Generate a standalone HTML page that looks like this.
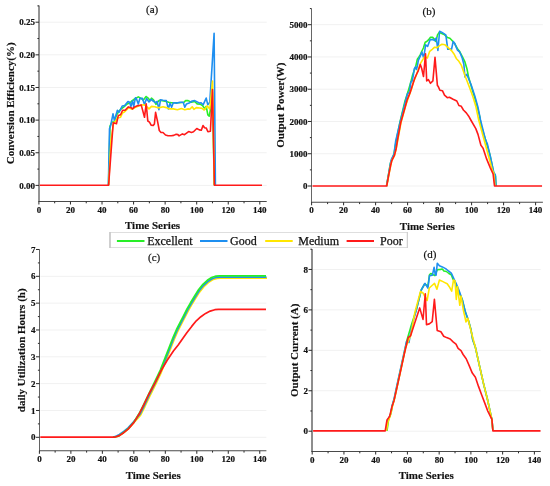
<!DOCTYPE html><html><head><meta charset="utf-8"><style>html,body{-webkit-font-smoothing:antialiased;margin:0;padding:0;background:#fff;width:550px;height:486px;overflow:hidden}svg{display:block;will-change:transform}.tk{font:bold 9px "Liberation Serif", serif;fill:#111;stroke:#111;stroke-width:0.2px}.al{font:bold 11px "Liberation Serif", serif;fill:#111;stroke:#111;stroke-width:0.15px}.tt{font:11px "Liberation Serif", serif;fill:#111;stroke:#111;stroke-width:0.2px}.lg{font:12px "Liberation Serif", serif;fill:#111;stroke:#111;stroke-width:0.25px}</style></head><body>
<svg width="550" height="486" viewBox="0 0 550 486">
<line x1="40" y1="185.4" x2="266.7" y2="185.4" stroke="#f1f1f1" stroke-width="1"/>
<line x1="40" y1="152.76" x2="266.7" y2="152.76" stroke="#f1f1f1" stroke-width="1"/>
<line x1="40" y1="120.12" x2="266.7" y2="120.12" stroke="#f1f1f1" stroke-width="1"/>
<line x1="40" y1="87.48" x2="266.7" y2="87.48" stroke="#f1f1f1" stroke-width="1"/>
<line x1="40" y1="54.84" x2="266.7" y2="54.84" stroke="#f1f1f1" stroke-width="1"/>
<line x1="40" y1="22.2" x2="266.7" y2="22.2" stroke="#f1f1f1" stroke-width="1"/>
<line x1="39" y1="5.5" x2="39" y2="202" stroke="#2a2a2a" stroke-width="1"/>
<line x1="38.5" y1="201.5" x2="266.7" y2="201.5" stroke="#4a4a4a" stroke-width="1.1"/>
<line x1="35.5" y1="185.4" x2="39" y2="185.4" stroke="#2a2a2a" stroke-width="1"/>
<text x="35" y="188.5" text-anchor="end" class="tk">0.00</text>
<line x1="35.5" y1="152.76" x2="39" y2="152.76" stroke="#2a2a2a" stroke-width="1"/>
<text x="35" y="155.86" text-anchor="end" class="tk">0.05</text>
<line x1="35.5" y1="120.12" x2="39" y2="120.12" stroke="#2a2a2a" stroke-width="1"/>
<text x="35" y="123.22" text-anchor="end" class="tk">0.10</text>
<line x1="35.5" y1="87.48" x2="39" y2="87.48" stroke="#2a2a2a" stroke-width="1"/>
<text x="35" y="90.58" text-anchor="end" class="tk">0.15</text>
<line x1="35.5" y1="54.84" x2="39" y2="54.84" stroke="#2a2a2a" stroke-width="1"/>
<text x="35" y="57.94" text-anchor="end" class="tk">0.20</text>
<line x1="35.5" y1="22.2" x2="39" y2="22.2" stroke="#2a2a2a" stroke-width="1"/>
<text x="35" y="25.3" text-anchor="end" class="tk">0.25</text>
<line x1="37.4" y1="169.08" x2="39" y2="169.08" stroke="#2a2a2a" stroke-width="1"/>
<line x1="37.4" y1="136.44" x2="39" y2="136.44" stroke="#2a2a2a" stroke-width="1"/>
<line x1="37.4" y1="103.8" x2="39" y2="103.8" stroke="#2a2a2a" stroke-width="1"/>
<line x1="37.4" y1="71.16" x2="39" y2="71.16" stroke="#2a2a2a" stroke-width="1"/>
<line x1="37.4" y1="38.52" x2="39" y2="38.52" stroke="#2a2a2a" stroke-width="1"/>
<line x1="37.4" y1="5.88" x2="39" y2="5.88" stroke="#2a2a2a" stroke-width="1"/>
<line x1="38.9" y1="201.5" x2="38.9" y2="204.5" stroke="#2a2a2a" stroke-width="1"/>
<text x="38.9" y="213.3" text-anchor="middle" class="tk">0</text>
<line x1="54.68" y1="201.5" x2="54.68" y2="203.3" stroke="#2a2a2a" stroke-width="1"/>
<line x1="70.46" y1="201.5" x2="70.46" y2="204.5" stroke="#2a2a2a" stroke-width="1"/>
<text x="70.46" y="213.3" text-anchor="middle" class="tk">20</text>
<line x1="86.24" y1="201.5" x2="86.24" y2="203.3" stroke="#2a2a2a" stroke-width="1"/>
<line x1="102.02" y1="201.5" x2="102.02" y2="204.5" stroke="#2a2a2a" stroke-width="1"/>
<text x="102.02" y="213.3" text-anchor="middle" class="tk">40</text>
<line x1="117.8" y1="201.5" x2="117.8" y2="203.3" stroke="#2a2a2a" stroke-width="1"/>
<line x1="133.58" y1="201.5" x2="133.58" y2="204.5" stroke="#2a2a2a" stroke-width="1"/>
<text x="133.58" y="213.3" text-anchor="middle" class="tk">60</text>
<line x1="149.36" y1="201.5" x2="149.36" y2="203.3" stroke="#2a2a2a" stroke-width="1"/>
<line x1="165.14" y1="201.5" x2="165.14" y2="204.5" stroke="#2a2a2a" stroke-width="1"/>
<text x="165.14" y="213.3" text-anchor="middle" class="tk">80</text>
<line x1="180.92" y1="201.5" x2="180.92" y2="203.3" stroke="#2a2a2a" stroke-width="1"/>
<line x1="196.7" y1="201.5" x2="196.7" y2="204.5" stroke="#2a2a2a" stroke-width="1"/>
<text x="196.7" y="213.3" text-anchor="middle" class="tk">100</text>
<line x1="212.48" y1="201.5" x2="212.48" y2="203.3" stroke="#2a2a2a" stroke-width="1"/>
<line x1="228.26" y1="201.5" x2="228.26" y2="204.5" stroke="#2a2a2a" stroke-width="1"/>
<text x="228.26" y="213.3" text-anchor="middle" class="tk">120</text>
<line x1="244.04" y1="201.5" x2="244.04" y2="203.3" stroke="#2a2a2a" stroke-width="1"/>
<line x1="259.82" y1="201.5" x2="259.82" y2="204.5" stroke="#2a2a2a" stroke-width="1"/>
<text x="259.82" y="213.3" text-anchor="middle" class="tk">140</text>
<text x="152.5" y="229.2" text-anchor="middle" class="al">Time Series</text>
<text transform="translate(14,103.3) rotate(-90)" text-anchor="middle" class="al">Conversion Efficiency(%)</text>
<text x="152.1" y="13.2" text-anchor="middle" class="tt">(a)</text>
<polyline points="108.5,185.2 110,126 112,122 114.4,121.7 116.5,115 118.9,111.4 121,109 123.9,106.9 127.2,104 129.5,103 131.3,101.5 134.6,99 138.3,96.9 140.8,98.2 143.2,100.2 146.1,96.5 148.2,98.2 150.2,100.6 151.5,98.2 153.5,99.8 156,104.3 158,101.5 159.7,100.2 166.3,101.5 168.7,102.3 171.2,102.7 174.9,102.7 179.9,102.7 184,102.3 185.6,100.6 188.1,100.6 191.4,102.3 194.7,101.5 197.2,103.9 200.5,104.3 202.5,105.6 205,108.9 206.2,106.4 207.9,115 209.2,116.2 210.4,110 212.4,92 214.3,185.2" fill="none" stroke="#28ee28" stroke-width="1.6" stroke-linejoin="round" stroke-linecap="butt"/>
<polyline points="108.4,185.2 109.5,128.7 110.7,125.4 113,113.9 114.4,120.5 117.4,110.2 119.1,112.1 122.2,106 124.7,105.6 128,101.5 129.6,102.3 130.9,106.5 132.5,100.7 133.7,106.5 135.4,97.8 136.2,98.2 138.3,103.9 139.9,98.6 142.4,98.2 144.5,104.5 146.5,98.6 149,101.9 151,99.4 153.1,101 155.6,102.7 157.2,101.5 158.9,109.7 160.5,99.8 163,100.2 166.3,100.6 168.3,108.9 170,103.3 171.6,107.2 173.3,102.7 176.6,103.1 179.9,102.3 183.2,102.3 184.8,107.2 186.5,103.9 189.8,102.7 192.2,101 194.7,100.6 197.2,101.9 199.6,103.1 201.1,102.8 203.1,104.8 206.2,98.1 207.8,104.8 209.8,102.3 214.1,33.2 215.4,185.2" fill="none" stroke="#1e8ff0" stroke-width="1.6" stroke-linejoin="round" stroke-linecap="butt"/>
<polyline points="108.6,185.2 111,140 113.5,124 115.5,121 117.7,118 120.6,117.2 122.5,113 124.7,111.8 128.8,107.7 132.1,109.3 136.2,106.9 139.9,105.6 143.2,104.8 145.7,105.6 149,108.9 151.5,106.4 154.8,106.8 157.2,107.6 159.7,107.6 163,106.8 166.3,107.6 169.6,108.9 173.3,108.9 177.4,109.7 181.5,108.5 184.8,109.7 188.1,108.9 189.8,109.3 192.2,106.8 193.9,109.3 196.3,107.6 199.6,108 202.1,108.4 204.2,110 207.3,105.9 209.8,109 212.5,81 214.3,185.2" fill="none" stroke="#ffe600" stroke-width="1.6" stroke-linejoin="round" stroke-linecap="butt"/>
<polyline points="39.8,185.2 108.6,185.2 113.2,122.9 115.2,123.3 116.5,123.7 118.3,115.5 120.6,114.7 122.6,110.2 125.1,110.2 128.4,106.9 131.3,107.7 132.5,108.9 134.6,106.9 137.9,105.6 140,105.3 141.2,104.9 144.5,117.3 146.2,103.7 147.8,121 149.5,122.2 151.1,125.1 153.2,125.5 154.4,123.9 155.6,112.3 157.7,122.2 159.3,130.5 161,132.5 163,132.5 165.5,135 168,135.8 171.3,135.8 173.7,135.4 176.2,134.2 177.9,134.6 179.1,135.9 182.4,133.9 184.5,134.7 188.6,131.6 191.5,132.4 193.5,131.8 196.8,128.5 199.3,129.9 201.3,130.2 203,125.6 204.6,127.7 206.3,128.1 207.9,131.8 210.4,131.2 212.5,89.6 214.4,185.2 262,185.2" fill="none" stroke="#ff1a1a" stroke-width="1.6" stroke-linejoin="round" stroke-linecap="butt"/>
<line x1="312.5" y1="186" x2="542.9" y2="186" stroke="#f1f1f1" stroke-width="1"/>
<line x1="312.5" y1="153.74" x2="542.9" y2="153.74" stroke="#f1f1f1" stroke-width="1"/>
<line x1="312.5" y1="121.48" x2="542.9" y2="121.48" stroke="#f1f1f1" stroke-width="1"/>
<line x1="312.5" y1="89.22" x2="542.9" y2="89.22" stroke="#f1f1f1" stroke-width="1"/>
<line x1="312.5" y1="56.96" x2="542.9" y2="56.96" stroke="#f1f1f1" stroke-width="1"/>
<line x1="312.5" y1="24.7" x2="542.9" y2="24.7" stroke="#f1f1f1" stroke-width="1"/>
<line x1="311.5" y1="8.6" x2="311.5" y2="202.8" stroke="#666" stroke-width="1"/>
<line x1="311" y1="202.3" x2="542.9" y2="202.3" stroke="#4a4a4a" stroke-width="1.1"/>
<line x1="308" y1="186" x2="311.5" y2="186" stroke="#2a2a2a" stroke-width="1"/>
<text x="307.5" y="189.1" text-anchor="end" class="tk">0</text>
<line x1="308" y1="153.74" x2="311.5" y2="153.74" stroke="#2a2a2a" stroke-width="1"/>
<text x="307.5" y="156.84" text-anchor="end" class="tk">1000</text>
<line x1="308" y1="121.48" x2="311.5" y2="121.48" stroke="#2a2a2a" stroke-width="1"/>
<text x="307.5" y="124.58" text-anchor="end" class="tk">2000</text>
<line x1="308" y1="89.22" x2="311.5" y2="89.22" stroke="#2a2a2a" stroke-width="1"/>
<text x="307.5" y="92.32" text-anchor="end" class="tk">3000</text>
<line x1="308" y1="56.96" x2="311.5" y2="56.96" stroke="#2a2a2a" stroke-width="1"/>
<text x="307.5" y="60.06" text-anchor="end" class="tk">4000</text>
<line x1="308" y1="24.7" x2="311.5" y2="24.7" stroke="#2a2a2a" stroke-width="1"/>
<text x="307.5" y="27.8" text-anchor="end" class="tk">5000</text>
<line x1="309.9" y1="169.87" x2="311.5" y2="169.87" stroke="#2a2a2a" stroke-width="1"/>
<line x1="309.9" y1="137.61" x2="311.5" y2="137.61" stroke="#2a2a2a" stroke-width="1"/>
<line x1="309.9" y1="105.35" x2="311.5" y2="105.35" stroke="#2a2a2a" stroke-width="1"/>
<line x1="309.9" y1="73.09" x2="311.5" y2="73.09" stroke="#2a2a2a" stroke-width="1"/>
<line x1="309.9" y1="40.83" x2="311.5" y2="40.83" stroke="#2a2a2a" stroke-width="1"/>
<line x1="309.9" y1="8.57" x2="311.5" y2="8.57" stroke="#2a2a2a" stroke-width="1"/>
<line x1="311.6" y1="202.3" x2="311.6" y2="205.3" stroke="#2a2a2a" stroke-width="1"/>
<text x="311.6" y="213.4" text-anchor="middle" class="tk">0</text>
<line x1="327.6" y1="202.3" x2="327.6" y2="204.1" stroke="#2a2a2a" stroke-width="1"/>
<line x1="343.6" y1="202.3" x2="343.6" y2="205.3" stroke="#2a2a2a" stroke-width="1"/>
<text x="343.6" y="213.4" text-anchor="middle" class="tk">20</text>
<line x1="359.6" y1="202.3" x2="359.6" y2="204.1" stroke="#2a2a2a" stroke-width="1"/>
<line x1="375.6" y1="202.3" x2="375.6" y2="205.3" stroke="#2a2a2a" stroke-width="1"/>
<text x="375.6" y="213.4" text-anchor="middle" class="tk">40</text>
<line x1="391.6" y1="202.3" x2="391.6" y2="204.1" stroke="#2a2a2a" stroke-width="1"/>
<line x1="407.6" y1="202.3" x2="407.6" y2="205.3" stroke="#2a2a2a" stroke-width="1"/>
<text x="407.6" y="213.4" text-anchor="middle" class="tk">60</text>
<line x1="423.6" y1="202.3" x2="423.6" y2="204.1" stroke="#2a2a2a" stroke-width="1"/>
<line x1="439.6" y1="202.3" x2="439.6" y2="205.3" stroke="#2a2a2a" stroke-width="1"/>
<text x="439.6" y="213.4" text-anchor="middle" class="tk">80</text>
<line x1="455.6" y1="202.3" x2="455.6" y2="204.1" stroke="#2a2a2a" stroke-width="1"/>
<line x1="471.6" y1="202.3" x2="471.6" y2="205.3" stroke="#2a2a2a" stroke-width="1"/>
<text x="471.6" y="213.4" text-anchor="middle" class="tk">100</text>
<line x1="487.6" y1="202.3" x2="487.6" y2="204.1" stroke="#2a2a2a" stroke-width="1"/>
<line x1="503.6" y1="202.3" x2="503.6" y2="205.3" stroke="#2a2a2a" stroke-width="1"/>
<text x="503.6" y="213.4" text-anchor="middle" class="tk">120</text>
<line x1="519.6" y1="202.3" x2="519.6" y2="204.1" stroke="#2a2a2a" stroke-width="1"/>
<line x1="535.6" y1="202.3" x2="535.6" y2="205.3" stroke="#2a2a2a" stroke-width="1"/>
<text x="535.6" y="213.4" text-anchor="middle" class="tk">140</text>
<text x="427.3" y="230.2" text-anchor="middle" class="al">Time Series</text>
<text transform="translate(284.1,105.1) rotate(-90)" text-anchor="middle" class="al">Output Power(W)</text>
<text x="429" y="14.8" text-anchor="middle" class="tt">(b)</text>
<polyline points="386.5,186 390.5,163 394,154 396,142 400,122 405,101 407.9,92.1 411.2,80.6 412.6,75 415.7,66.5 416.5,62.9 417.3,59.3 418.8,57.2 420.3,54.6 421.9,51 423.4,48 425.2,42.3 426.8,41.5 428.9,39.4 430.5,37.3 432.6,37.3 434.6,39.4 435.9,41.5 437.5,34.9 439.2,32.4 441.2,33.2 444.1,34.5 447.4,37.4 449.9,38.2 452.3,40.7 454.4,43.2 457.3,48.5 459.8,51.8 462.2,56.3 464.7,61.3 467,69 468.6,77.3 472.3,89.7 476,102 479.8,116.9 481,125 485,138 490,155 493.5,172 495.5,176 496,186" fill="none" stroke="#28ee28" stroke-width="1.6" stroke-linejoin="round" stroke-linecap="butt"/>
<polyline points="386.5,186 388.5,175 390.5,163 391.5,159 394,154 395.7,140.9 400.2,121.7 405.8,100 407.5,93.7 409.5,92.1 410.8,82.2 412,81.4 413.4,75 414.2,69 415.5,67 416.5,69.5 417.5,65.4 418.3,60.3 419.8,57.2 421.1,54.1 421.9,52.1 423.7,58 425.6,44.8 427.6,46.4 430.1,39.8 432.6,39.4 434.6,40.6 436.3,37.8 437.9,50.5 439.6,31.2 442,32.4 445.8,34.9 447.8,49.3 449.5,48.9 451.5,49.3 453.2,41.5 454.8,43.6 457.3,49.8 459.8,52.2 462.2,58 463.9,64.6 464.9,77 466.8,74.3 471.1,84.8 474.8,95.9 477.9,107 480.5,120 485.2,138.7 487.3,143.8 490.2,156 493.8,172.6 495.3,174.8 496,186" fill="none" stroke="#1e8ff0" stroke-width="1.6" stroke-linejoin="round" stroke-linecap="butt"/>
<polyline points="386.8,186 389,174 391,164 392,160 394.6,155.4 396.3,148 397.8,140 401,122.5 406,104.5 409,96 411.5,89 413.5,82 416,76 418.5,69 420.6,63.2 422.3,60.4 424.6,56.8 427.4,57.9 429.7,51.3 432.2,49.3 434.6,47.2 437.1,47.6 439.6,45.6 442,44.3 445,44.8 448.2,47.7 451.5,50.6 454,53.9 456.5,58.8 458.9,61.3 461.4,65.4 463,70 465.6,77.3 469.9,88.5 473,97.1 476,107 478.7,120 492.4,170.4 493.8,173.3 495,186" fill="none" stroke="#ffe600" stroke-width="1.6" stroke-linejoin="round" stroke-linecap="butt"/>
<polyline points="312.5,186 386.7,186 388.7,175 390.8,164.7 391.8,160.6 394.4,155.4 396,149.3 397.5,140 400.7,122.8 405.8,104.7 407.1,100 410.3,92.1 414.5,78.9 416.2,75 418.3,70.6 420.3,64.4 421.7,68.5 423.5,76.5 425.5,53.7 426.7,80.9 428.4,79.6 430.5,83.3 432.9,80.9 435,57.4 437.4,85.4 438.3,86.6 439.9,90.3 442.4,90.7 444.5,95.2 447.3,97.7 449.4,97.3 453.1,99.3 456.8,101 458.9,105.5 461.3,106.3 463.4,110 466.3,112.9 468.7,116.2 470.8,120 475.8,128.6 478,134.4 480.9,145.2 483,148.1 486.6,158.9 490.2,167.6 493.1,174 494.5,186 542,186" fill="none" stroke="#ff1a1a" stroke-width="1.6" stroke-linejoin="round" stroke-linecap="butt"/>
<line x1="40.5" y1="437.3" x2="266.4" y2="437.3" stroke="#f1f1f1" stroke-width="1"/>
<line x1="40.5" y1="410.47" x2="266.4" y2="410.47" stroke="#f1f1f1" stroke-width="1"/>
<line x1="40.5" y1="383.64" x2="266.4" y2="383.64" stroke="#f1f1f1" stroke-width="1"/>
<line x1="40.5" y1="356.81" x2="266.4" y2="356.81" stroke="#f1f1f1" stroke-width="1"/>
<line x1="40.5" y1="329.98" x2="266.4" y2="329.98" stroke="#f1f1f1" stroke-width="1"/>
<line x1="40.5" y1="303.15" x2="266.4" y2="303.15" stroke="#f1f1f1" stroke-width="1"/>
<line x1="40.5" y1="276.32" x2="266.4" y2="276.32" stroke="#f1f1f1" stroke-width="1"/>
<line x1="39.5" y1="249.5" x2="39.5" y2="451.3" stroke="#626262" stroke-width="1"/>
<line x1="39" y1="450.8" x2="266.4" y2="450.8" stroke="#4a4a4a" stroke-width="1.1"/>
<line x1="36" y1="437.3" x2="39.5" y2="437.3" stroke="#2a2a2a" stroke-width="1"/>
<text x="35.5" y="440.4" text-anchor="end" class="tk">0</text>
<line x1="36" y1="410.47" x2="39.5" y2="410.47" stroke="#2a2a2a" stroke-width="1"/>
<text x="35.5" y="413.57" text-anchor="end" class="tk">1</text>
<line x1="36" y1="383.64" x2="39.5" y2="383.64" stroke="#2a2a2a" stroke-width="1"/>
<text x="35.5" y="386.74" text-anchor="end" class="tk">2</text>
<line x1="36" y1="356.81" x2="39.5" y2="356.81" stroke="#2a2a2a" stroke-width="1"/>
<text x="35.5" y="359.91" text-anchor="end" class="tk">3</text>
<line x1="36" y1="329.98" x2="39.5" y2="329.98" stroke="#2a2a2a" stroke-width="1"/>
<text x="35.5" y="333.08" text-anchor="end" class="tk">4</text>
<line x1="36" y1="303.15" x2="39.5" y2="303.15" stroke="#2a2a2a" stroke-width="1"/>
<text x="35.5" y="306.25" text-anchor="end" class="tk">5</text>
<line x1="36" y1="276.32" x2="39.5" y2="276.32" stroke="#2a2a2a" stroke-width="1"/>
<text x="35.5" y="279.42" text-anchor="end" class="tk">6</text>
<line x1="36" y1="249.49" x2="39.5" y2="249.49" stroke="#2a2a2a" stroke-width="1"/>
<text x="35.5" y="252.59" text-anchor="end" class="tk">7</text>
<line x1="37.9" y1="423.88" x2="39.5" y2="423.88" stroke="#2a2a2a" stroke-width="1"/>
<line x1="37.9" y1="397.06" x2="39.5" y2="397.06" stroke="#2a2a2a" stroke-width="1"/>
<line x1="37.9" y1="370.23" x2="39.5" y2="370.23" stroke="#2a2a2a" stroke-width="1"/>
<line x1="37.9" y1="343.39" x2="39.5" y2="343.39" stroke="#2a2a2a" stroke-width="1"/>
<line x1="37.9" y1="316.57" x2="39.5" y2="316.57" stroke="#2a2a2a" stroke-width="1"/>
<line x1="37.9" y1="289.74" x2="39.5" y2="289.74" stroke="#2a2a2a" stroke-width="1"/>
<line x1="37.9" y1="262.91" x2="39.5" y2="262.91" stroke="#2a2a2a" stroke-width="1"/>
<line x1="39.4" y1="450.8" x2="39.4" y2="453.8" stroke="#2a2a2a" stroke-width="1"/>
<text x="39.4" y="462.3" text-anchor="middle" class="tk">0</text>
<line x1="55.14" y1="450.8" x2="55.14" y2="452.6" stroke="#2a2a2a" stroke-width="1"/>
<line x1="70.88" y1="450.8" x2="70.88" y2="453.8" stroke="#2a2a2a" stroke-width="1"/>
<text x="70.88" y="462.3" text-anchor="middle" class="tk">20</text>
<line x1="86.62" y1="450.8" x2="86.62" y2="452.6" stroke="#2a2a2a" stroke-width="1"/>
<line x1="102.36" y1="450.8" x2="102.36" y2="453.8" stroke="#2a2a2a" stroke-width="1"/>
<text x="102.36" y="462.3" text-anchor="middle" class="tk">40</text>
<line x1="118.1" y1="450.8" x2="118.1" y2="452.6" stroke="#2a2a2a" stroke-width="1"/>
<line x1="133.84" y1="450.8" x2="133.84" y2="453.8" stroke="#2a2a2a" stroke-width="1"/>
<text x="133.84" y="462.3" text-anchor="middle" class="tk">60</text>
<line x1="149.58" y1="450.8" x2="149.58" y2="452.6" stroke="#2a2a2a" stroke-width="1"/>
<line x1="165.32" y1="450.8" x2="165.32" y2="453.8" stroke="#2a2a2a" stroke-width="1"/>
<text x="165.32" y="462.3" text-anchor="middle" class="tk">80</text>
<line x1="181.06" y1="450.8" x2="181.06" y2="452.6" stroke="#2a2a2a" stroke-width="1"/>
<line x1="196.8" y1="450.8" x2="196.8" y2="453.8" stroke="#2a2a2a" stroke-width="1"/>
<text x="196.8" y="462.3" text-anchor="middle" class="tk">100</text>
<line x1="212.54" y1="450.8" x2="212.54" y2="452.6" stroke="#2a2a2a" stroke-width="1"/>
<line x1="228.28" y1="450.8" x2="228.28" y2="453.8" stroke="#2a2a2a" stroke-width="1"/>
<text x="228.28" y="462.3" text-anchor="middle" class="tk">120</text>
<line x1="244.02" y1="450.8" x2="244.02" y2="452.6" stroke="#2a2a2a" stroke-width="1"/>
<line x1="259.76" y1="450.8" x2="259.76" y2="453.8" stroke="#2a2a2a" stroke-width="1"/>
<text x="259.76" y="462.3" text-anchor="middle" class="tk">140</text>
<text x="153.2" y="478.9" text-anchor="middle" class="al">Time Series</text>
<text transform="translate(25.1,350.3) rotate(-90)" text-anchor="middle" class="al">daily Utilization Hours (h)</text>
<text x="154.1" y="260.6" text-anchor="middle" class="tt">(c)</text>
<polyline points="113.5,437.2 117.5,436.5 119.9,435.4 124.2,432.4 128.6,428.7 134.3,422.2 140.6,415.1 144.9,406.5 149.7,396.3 155.9,383.8 161.3,372.3 165.9,360.6 170,350.1 174.1,339.6 177.5,331.8 181,324.9 184.5,318.1 188,311.3 191.5,305.1 195,299.3 199.5,292.1 203.9,286.6 208.3,282.6 212.6,279.8 217,278.4 220.3,278.2 267,278.2" fill="none" stroke="#ffe600" stroke-width="1.7" stroke-linejoin="round" stroke-linecap="butt"/>
<polyline points="113,437.2 117,435.8 119.4,434.4 123.7,431.5 128.1,427.9 133.8,421.6 140.1,414 144.4,405.4 149.2,395.2 155.4,382.7 160.8,371.2 165.4,359.5 169.5,349 173.6,338.5 177,330.7 180.5,323.8 184,317 187.5,310.2 191,304 194.5,298.2 199,291 203.4,285.5 207.8,281.5 212.1,278.7 216.5,277.3 219.8,277.1 266.5,277.1" fill="none" stroke="#1e8ff0" stroke-width="1.7" stroke-linejoin="round" stroke-linecap="butt"/>
<polyline points="113,437.2 117,436.5 119.4,435.4 123.7,432.4 128.1,428.7 133.8,422.2 139.6,412.8 143.9,404.2 148.7,394 154.9,381.5 160.3,370 164.9,358.3 169,347.8 173.1,337.3 176.5,329.5 180,322.6 183.5,315.8 187,309 190.5,302.8 194,297 198.5,289.8 202.9,284.3 207.3,280.3 211.6,277.5 216,276.1 219.3,275.9 266,275.9" fill="none" stroke="#28ee28" stroke-width="1.7" stroke-linejoin="round" stroke-linecap="butt"/>
<polyline points="40.3,437.2 114.4,437.2 119.4,435.6 123.7,432.7 128.1,429.1 133.8,422.6 139.6,413.2 143.9,404.6 148.7,394.5 154.9,383.1 161,370.8 167.2,360.3 173.4,351 178.2,345 182.4,338.9 187,332.4 191.7,326.4 196.3,320.8 200.9,316.7 205.6,313.4 210.2,311.1 214.8,309.7 218.5,309.3 266,309.3" fill="none" stroke="#ff1a1a" stroke-width="1.7" stroke-linejoin="round" stroke-linecap="butt"/>
<line x1="313" y1="431.2" x2="540.7" y2="431.2" stroke="#f1f1f1" stroke-width="1"/>
<line x1="313" y1="390.76" x2="540.7" y2="390.76" stroke="#f1f1f1" stroke-width="1"/>
<line x1="313" y1="350.32" x2="540.7" y2="350.32" stroke="#f1f1f1" stroke-width="1"/>
<line x1="313" y1="309.88" x2="540.7" y2="309.88" stroke="#f1f1f1" stroke-width="1"/>
<line x1="313" y1="269.44" x2="540.7" y2="269.44" stroke="#f1f1f1" stroke-width="1"/>
<line x1="312" y1="249" x2="312" y2="452" stroke="#1c1c1c" stroke-width="1"/>
<line x1="311.5" y1="451.5" x2="540.7" y2="451.5" stroke="#4a4a4a" stroke-width="1.1"/>
<line x1="308.5" y1="431.2" x2="312" y2="431.2" stroke="#2a2a2a" stroke-width="1"/>
<text x="308" y="434.3" text-anchor="end" class="tk">0</text>
<line x1="308.5" y1="390.76" x2="312" y2="390.76" stroke="#2a2a2a" stroke-width="1"/>
<text x="308" y="393.86" text-anchor="end" class="tk">2</text>
<line x1="308.5" y1="350.32" x2="312" y2="350.32" stroke="#2a2a2a" stroke-width="1"/>
<text x="308" y="353.42" text-anchor="end" class="tk">4</text>
<line x1="308.5" y1="309.88" x2="312" y2="309.88" stroke="#2a2a2a" stroke-width="1"/>
<text x="308" y="312.98" text-anchor="end" class="tk">6</text>
<line x1="308.5" y1="269.44" x2="312" y2="269.44" stroke="#2a2a2a" stroke-width="1"/>
<text x="308" y="272.54" text-anchor="end" class="tk">8</text>
<line x1="310.4" y1="410.98" x2="312" y2="410.98" stroke="#2a2a2a" stroke-width="1"/>
<line x1="310.4" y1="370.54" x2="312" y2="370.54" stroke="#2a2a2a" stroke-width="1"/>
<line x1="310.4" y1="330.1" x2="312" y2="330.1" stroke="#2a2a2a" stroke-width="1"/>
<line x1="310.4" y1="289.66" x2="312" y2="289.66" stroke="#2a2a2a" stroke-width="1"/>
<line x1="310.4" y1="249.22" x2="312" y2="249.22" stroke="#2a2a2a" stroke-width="1"/>
<line x1="312.2" y1="451.5" x2="312.2" y2="454.5" stroke="#2a2a2a" stroke-width="1"/>
<text x="312.2" y="463.1" text-anchor="middle" class="tk">0</text>
<line x1="328.07" y1="451.5" x2="328.07" y2="453.3" stroke="#2a2a2a" stroke-width="1"/>
<line x1="343.94" y1="451.5" x2="343.94" y2="454.5" stroke="#2a2a2a" stroke-width="1"/>
<text x="343.94" y="463.1" text-anchor="middle" class="tk">20</text>
<line x1="359.81" y1="451.5" x2="359.81" y2="453.3" stroke="#2a2a2a" stroke-width="1"/>
<line x1="375.68" y1="451.5" x2="375.68" y2="454.5" stroke="#2a2a2a" stroke-width="1"/>
<text x="375.68" y="463.1" text-anchor="middle" class="tk">40</text>
<line x1="391.55" y1="451.5" x2="391.55" y2="453.3" stroke="#2a2a2a" stroke-width="1"/>
<line x1="407.42" y1="451.5" x2="407.42" y2="454.5" stroke="#2a2a2a" stroke-width="1"/>
<text x="407.42" y="463.1" text-anchor="middle" class="tk">60</text>
<line x1="423.29" y1="451.5" x2="423.29" y2="453.3" stroke="#2a2a2a" stroke-width="1"/>
<line x1="439.16" y1="451.5" x2="439.16" y2="454.5" stroke="#2a2a2a" stroke-width="1"/>
<text x="439.16" y="463.1" text-anchor="middle" class="tk">80</text>
<line x1="455.03" y1="451.5" x2="455.03" y2="453.3" stroke="#2a2a2a" stroke-width="1"/>
<line x1="470.9" y1="451.5" x2="470.9" y2="454.5" stroke="#2a2a2a" stroke-width="1"/>
<text x="470.9" y="463.1" text-anchor="middle" class="tk">100</text>
<line x1="486.77" y1="451.5" x2="486.77" y2="453.3" stroke="#2a2a2a" stroke-width="1"/>
<line x1="502.64" y1="451.5" x2="502.64" y2="454.5" stroke="#2a2a2a" stroke-width="1"/>
<text x="502.64" y="463.1" text-anchor="middle" class="tk">120</text>
<line x1="518.51" y1="451.5" x2="518.51" y2="453.3" stroke="#2a2a2a" stroke-width="1"/>
<line x1="534.38" y1="451.5" x2="534.38" y2="454.5" stroke="#2a2a2a" stroke-width="1"/>
<text x="534.38" y="463.1" text-anchor="middle" class="tk">140</text>
<text x="426.2" y="479.3" text-anchor="middle" class="al">Time Series</text>
<text transform="translate(298.2,350.3) rotate(-90)" text-anchor="middle" class="al">Output Current (A)</text>
<text x="429.9" y="258.2" text-anchor="middle" class="tt">(d)</text>
<polyline points="387,430.9 388.5,420 391,413 392.5,405 394.5,398 397.5,384 401,368 404.5,352 407,340 410.6,327.6 416.4,309.5 421.3,290 424.6,284 427.9,286 429.5,274.8 430.8,273.5 433.2,274.8 434.9,275.6 437.3,269.8 440.6,269.4 442.3,269 443.9,271 446.4,271.5 448.9,273.5 451.3,274.8 453,279.3 454.6,281.3 457.1,287.1 458.6,291.1 462.3,299.8 465.4,312.1 468.5,320.7 470.9,329.4 472.8,340 475.4,347.3 479.5,365.9 483.7,384.4 487.8,400.8 490.9,415.2 491.9,419.4 492.9,430.9" fill="none" stroke="#28ee28" stroke-width="1.6" stroke-linejoin="round" stroke-linecap="butt"/>
<polyline points="386.5,430.9 388,420 390.5,414 392,406 394,399 397,385 400.5,369 404,353 406.5,341.6 409,342.4 411.5,327.6 416.4,309.5 421.3,289.8 424.6,284 425,283.4 427.9,288.2 429.5,275.6 432.4,275.2 434.1,267.3 435.3,274.8 436.1,275.2 437.3,263.2 439.4,265.7 442.3,266.9 445.6,268.6 448.5,271 451.3,273.1 453.8,278.5 456.3,283.8 458.7,289.5 462.3,299.8 465.4,312.1 468.5,320.7 470.9,329.4 472.8,340 475.4,347.3 479.5,365.9 483.7,384.4 487.8,400.8 490.9,415.2 491.9,419.4 492.9,430.9" fill="none" stroke="#1e8ff0" stroke-width="1.6" stroke-linejoin="round" stroke-linecap="butt"/>
<polyline points="386.5,430.9 388,422 390.5,415 392.5,406 394.5,399 397.5,385 401,369 404,355 405.7,347.4 410.6,335.8 414.8,312.8 420.5,291.4 423,293 427.1,300.5 429.3,288 432,285.5 434.5,283.4 436.9,289.2 439.4,280.1 441.5,280.9 444.8,282.6 447.2,283.8 449.3,286.7 451.7,291.2 453.5,280 455,281 456.3,299.5 457.5,286.5 459.8,305.3 461,296 463.5,310.9 466,322 467.8,318.3 470.3,328.1 473.4,340 475.4,347.3 479.5,365.9 483.7,384.4 487.8,400.8 490.9,415.2 491.9,419.4 492.9,430.9" fill="none" stroke="#ffe600" stroke-width="1.6" stroke-linejoin="round" stroke-linecap="butt"/>
<polyline points="313.1,430.9 385.2,430.9 387,420 389.6,416.4 392.2,406 394,400.7 397.5,385 401,369.2 404.5,353 408.2,337.5 410.6,335.8 414.8,322.7 419.7,307.9 423,319.4 425.3,293.8 426.5,324.6 429.3,323.9 432.2,321.7 434.4,299.4 437.2,330.4 440.9,331.8 443.7,336.2 446.6,337.6 450.2,339 453.1,341.9 456,344.1 458.1,348.4 461,350.6 463.1,354.5 466.2,358.7 469.3,365.9 472.3,373.1 475.4,377.2 478.5,386.4 481.6,394.7 484.7,402.9 487.8,411.1 490.9,417.3 491.9,419.4 492.9,430.9 540.5,430.9" fill="none" stroke="#ff1a1a" stroke-width="1.6" stroke-linejoin="round" stroke-linecap="butt"/>
<rect x="110" y="232.5" width="297.4" height="15" fill="#fff" stroke="#dedede" stroke-width="1"/>
<line x1="110" y1="232" x2="110" y2="248" stroke="#c8c8c8" stroke-width="1.6"/>
<line x1="407.4" y1="232" x2="407.4" y2="248" stroke="#d0d0d0" stroke-width="1.2"/>
<line x1="116.9" y1="241" x2="144.5" y2="241" stroke="#28ee28" stroke-width="2"/>
<text x="147.2" y="244.6" class="lg">Excellent</text>
<line x1="200" y1="241" x2="227.5" y2="241" stroke="#1e8ff0" stroke-width="2"/>
<text x="230.1" y="244.6" class="lg">Good</text>
<line x1="265.2" y1="241" x2="292.7" y2="241" stroke="#ffe600" stroke-width="2"/>
<text x="298.3" y="244.6" class="lg">Medium</text>
<line x1="346.6" y1="241" x2="374" y2="241" stroke="#ff1a1a" stroke-width="2"/>
<text x="380" y="244.6" class="lg">Poor</text>
</svg></body></html>
